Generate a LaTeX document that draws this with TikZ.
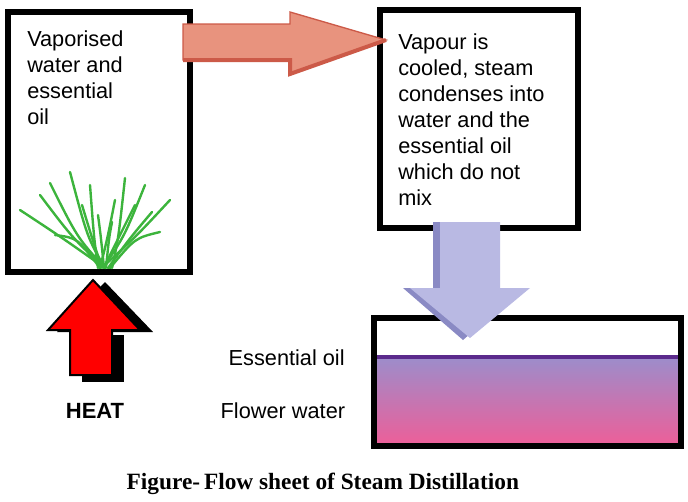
\documentclass[tikz,border=0pt]{standalone}
\usepackage{fontspec}
\setmainfont{Liberation Sans}
\newfontfamily\capfont{Liberation Serif}
\usetikzlibrary{calc}
\definecolor{grassg}{HTML}{3CB43C}
\definecolor{salmon}{HTML}{E8937E}
\definecolor{salmonedge}{HTML}{CC5A48}
\definecolor{lav}{HTML}{B9B9E3}
\definecolor{lavdark}{HTML}{8A8AC4}
\definecolor{oilline}{HTML}{5B2A8C}
\definecolor{liqtop}{HTML}{9C8DCB}
\definecolor{liqbot}{HTML}{EE5E98}
\tikzset{
  frame/.style={draw=black,line width=3.8pt},
  body/.style={font=\fontsize{16.3}{19.5}\selectfont,align=left,anchor=north west,inner sep=0pt},
  blade/.style={grassg,line width=1.8pt,line cap=round}
}
\begin{document}
\begin{tikzpicture}[x=0.75pt,y=-0.75pt]
\useasboundingbox (0,0) rectangle (688,501);
% boxes
\draw[frame] (8,12) rectangle (190,272);
\draw[frame] (380,10) rectangle (578,228);
\shade[top color=liqtop,bottom color=liqbot] (374,357) rectangle (681,446);
\draw[oilline,line width=3pt] (374,357) -- (681,357);
\draw[frame] (374,318) rectangle (681,446);
\node[body] (t1) at (27,30) {Vaporised\\water and\\essential\\oil};
\node[body] (t2) at (398,33) {Vapour is\\cooled, steam\\condenses into\\water and the\\essential oil\\which do not\\mix};
% grass
\foreach \a/\b/\c/\d in {105/268/20/210, 105/268/40/195, 105/268/70/172, 105/268/50/183, 105/265/145/185, 105/265/170/200, 105/265/135/205, 100/268/55/235, 110/268/160/232, 98/268/90/185, 112/268/125/178, 100/268/115/200, 104/268/98/215, 108/268/152/212, 102/268/82/205, 106/268/112/222}{
  \draw[blade] (\a,\b) .. controls ({(\a+\c)/2},{\b-30}) .. (\c,\d);
}
% right arrow
\draw[salmonedge,line width=1pt,fill=salmon]
  (183,24) -- (290,24) -- (290,12) -- (386,40) -- (290,74) -- (290,60) -- (183,60) -- cycle;
\draw[salmonedge,line width=3pt] (183,60) -- (290,60) -- (290,74) -- (386,40);
% down arrow
\fill[lavdark] (433,222) -- (493,222) -- (493,288) -- (523,288) -- (463,340) -- (403,288) -- (433,288) -- cycle;
\fill[lav] (440,222) -- (500,222) -- (500,288) -- (530,288) -- (470,338) -- (410,288) -- (440,288) -- cycle;
% heat arrow
\fill[black] (82,335) -- (124,335) -- (124,382) -- (82,382) -- cycle;
\fill[black] (105,282) -- (153,332) -- (57,332) -- cycle;
\draw[black,line width=1.5pt,fill=red] (70,330) -- (48,330) -- (93,280) -- (140,330) -- (112,330) -- (112,375) -- (70,375) -- cycle;
\node[font=\bfseries\fontsize{16.5}{18}\selectfont] (heat) at (95,411) {HEAT};
\node[font=\fontsize{16.3}{18}\selectfont,anchor=west] (eo) at (224,358) {Essential oil};
\node[font=\fontsize{16.3}{18}\selectfont,anchor=west] (fw) at (216,411) {Flower water};
\node[font=\capfont\bfseries\fontsize{17.5}{20}\selectfont,anchor=west] (cap) at (122,484) {Figure-\,Flow sheet of Steam Distillation};
\end{tikzpicture}
\end{document}
